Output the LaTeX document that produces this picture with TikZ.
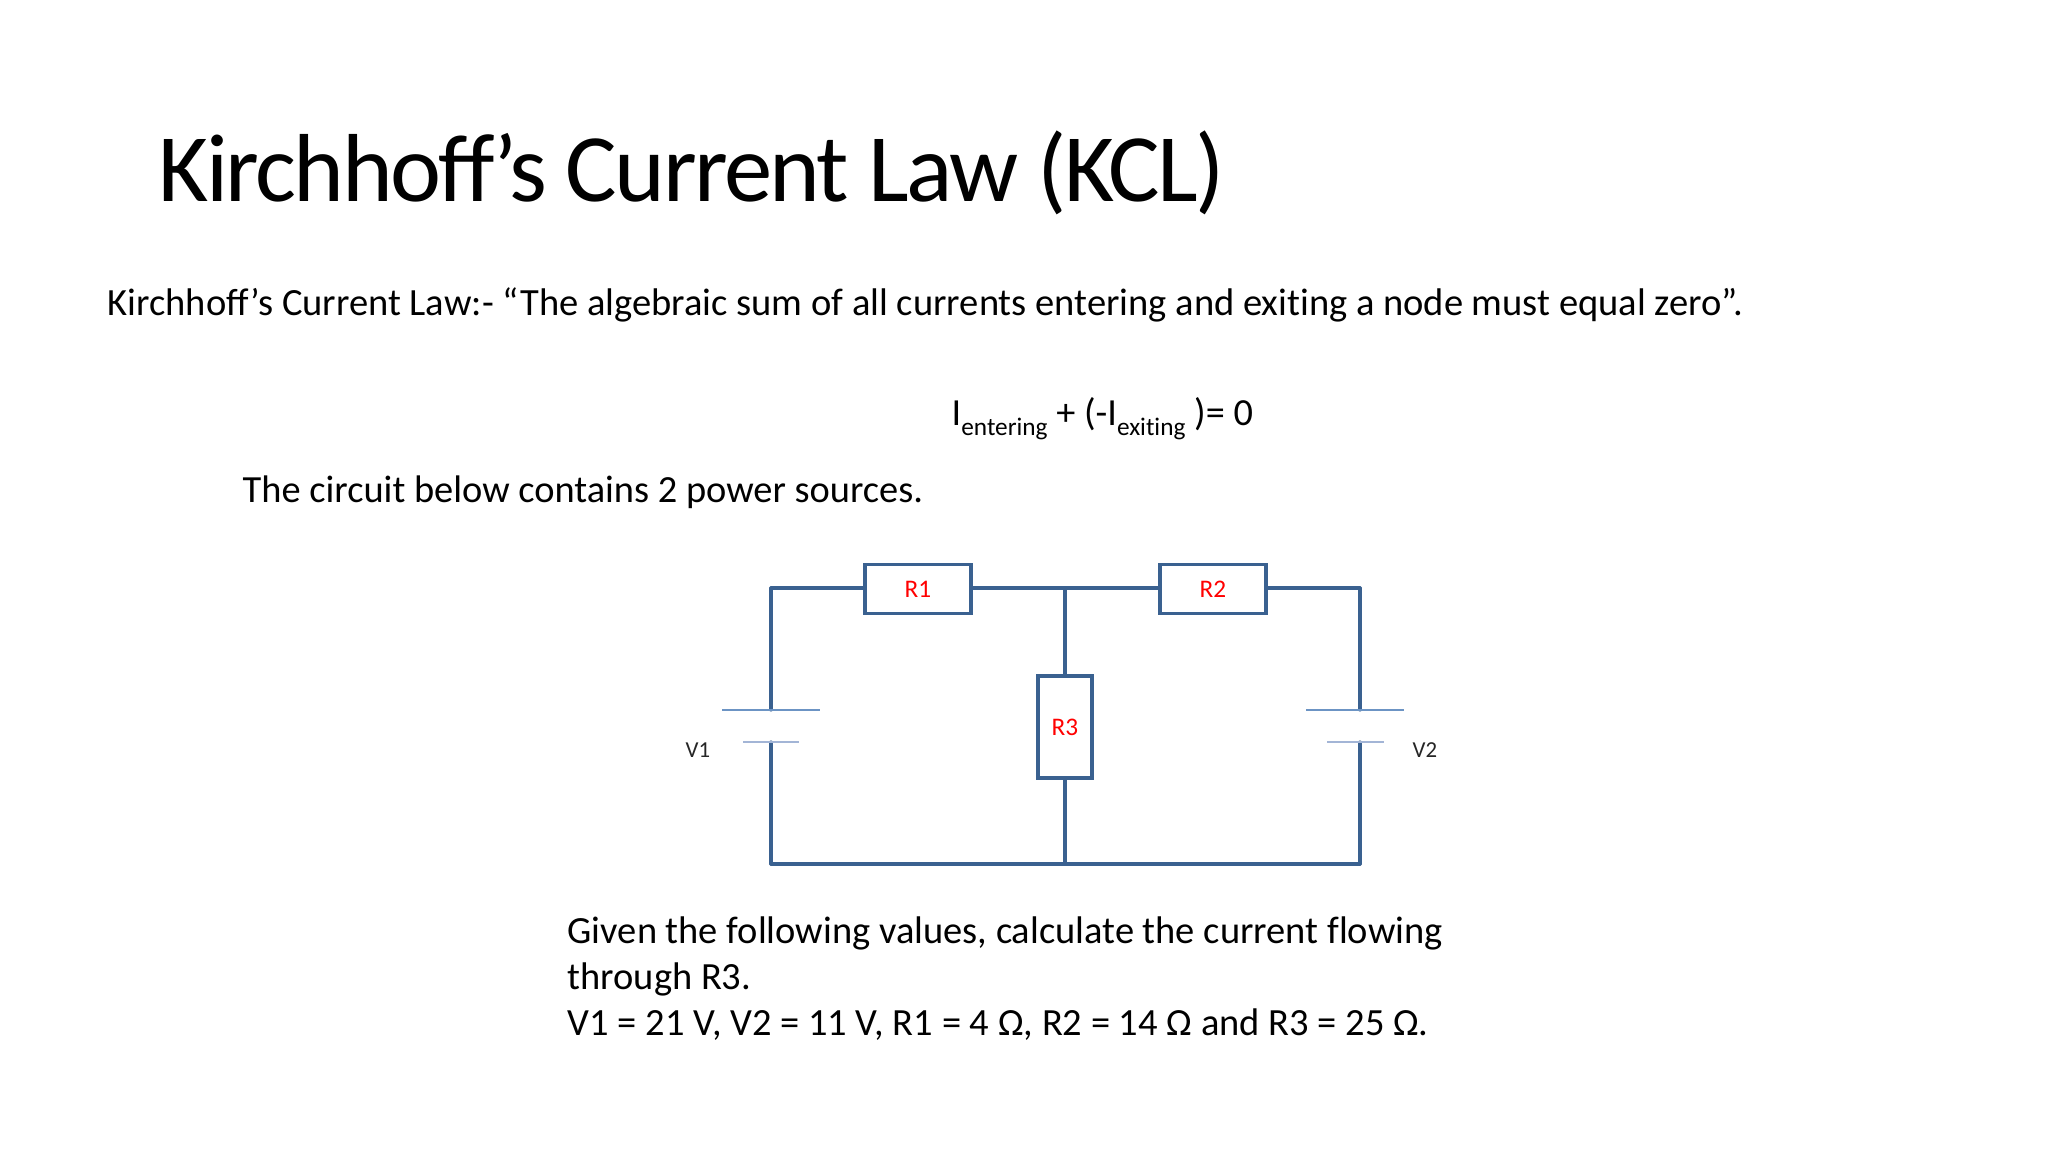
\documentclass[tikz,border=0pt]{standalone}
\usepackage{xcolor}
\usepackage{fontspec}
\setmainfont{Carlito}
\usetikzlibrary{positioning}
\definecolor{wireblue}{HTML}{3A6190}
\definecolor{plateblue}{HTML}{6C94C4}
\definecolor{plategrey}{HTML}{A3B5D6}
\newcommand{\lowtext}[1]{\raisebox{-2.85pt}{\fontsize{7.2}{8}\selectfont #1}}
\tikzset{
	slidetext/.style={inner sep=0pt,anchor=base west,align=left,text=black},
	resistor/.style={rectangle,draw=wireblue,line width=0.9pt,fill=white,inner sep=0pt,text=red,font=\fontsize{7.2}{8}\selectfont},
	cellname/.style={inner sep=0pt,text=black!85,font=\fontsize{6.5}{8}\selectfont}
}
\begin{document}
\begin{tikzpicture}
	          \useasboundingbox (0,0) rectangle (20.48,-11.52);
	          \begin{scope}[every node/.style={slidetext}]
	            \node[font=\fontsize{27.5}{32}\selectfont\addfontfeatures{LetterSpace=-2.7}] (title) at (1.58,-2.02) {Kirchhoff\kern-0.4pt’s Current Law (KCL)};
	            \node[font=\fontsize{10.96}{13}\selectfont] (law) at (1.07,-3.155) {Kirchhoff’s Current Law:- “The algebraic sum of all currents entering and exit\kern0pt ing a node must equal zero”.};
	            \node[font=\fontsize{10.9}{13}\selectfont] (equation) at (9.51,-4.255) {I\lowtext{entering} + (-I\lowtext{exit\kern0pt ing} )= 0};
	            \node[font=\fontsize{10.93}{13}\selectfont] (intro) at (2.42,-5.03) {The circuit below contains 2 power sources.};
	            \node[font=\fontsize{10.95}{13.07}\selectfont] (given) at (5.67,-10.355) {Given the following values, calculate the current f\kern0pt lowing\\through R3.\\V1 = 21 V, V2 = 11 V, R1 = 4 Ω, R2 = 14 Ω and R3 = 25 Ω.};
	          \end{scope}
	          \begin{scope}[every node/.style={resistor}]
	            \node[minimum width=1.06cm,minimum height=0.49cm] (r1) at (9.18,-5.89) {R1};
	            \node[minimum width=1.06cm,minimum height=0.49cm] (r2) at (12.13,-5.89) {R2};
	            \node[minimum width=0.54cm,minimum height=1.02cm] (r3) at (10.65,-7.27) {R3};
	          \end{scope}
	          \begin{scope}[every node/.style={cellname}]
	            \node (v1) at (6.98,-7.50) {V1};
	            \node (v2) at (14.25,-7.50) {V2};
	          \end{scope}
	          \coordinate (topleft) at (7.71,-5.88);
	          \coordinate (topmid) at (10.65,-5.88);
	          \coordinate (topright) at (13.60,-5.88);
	          \coordinate (botleft) at (7.71,-8.64);
	          \coordinate (botmid) at (10.65,-8.64);
	          \coordinate (botright) at (13.60,-8.64);
	          \coordinate (la) at (7.22,-7.10);
	          \coordinate (lb) at (8.20,-7.10);
	          \coordinate (lc) at (7.43,-7.42);
	          \coordinate (ld) at (7.99,-7.42);
	          \coordinate (ra) at (13.06,-7.10);
	          \coordinate (rb) at (14.04,-7.10);
	          \coordinate (rc) at (13.27,-7.42);
	          \coordinate (rd) at (13.84,-7.42);
	          \coordinate (lplus) at (7.71,-7.10);
	          \coordinate (lminus) at (7.71,-7.42);
	          \coordinate (rplus) at (13.60,-7.10);
	          \coordinate (rminus) at (13.60,-7.42);
	          \begin{scope}[every edge/.style={draw=wireblue,line width=0.9pt,line cap=round}]
	            \path (lplus) edge (topleft);
	            \path (topleft) edge (topleft -| r1.west);
	            \path (topleft -| r1.east) edge (topleft -| r2.west);
	            \path (topright -| r2.east) edge (topright);
	            \path (topright) edge (rplus);
	            \path (topmid) edge (r3);
	            \path (r3) edge (botmid);
	            \path (lminus) edge (botleft);
	            \path (rminus) edge (botright);
	            \path (botleft) edge (botright);
	          \end{scope}
	          \begin{scope}[every edge/.style={draw=plateblue,line width=0.7pt}]
	            \path (la) edge (lb);
	            \path (ra) edge (rb);
	          \end{scope}
	          \begin{scope}[every edge/.style={draw=plategrey,line width=0.8pt}]
	            \path (lc) edge (ld);
	            \path (rc) edge (rd);
	          \end{scope}
	        \end{tikzpicture}
\end{document}
